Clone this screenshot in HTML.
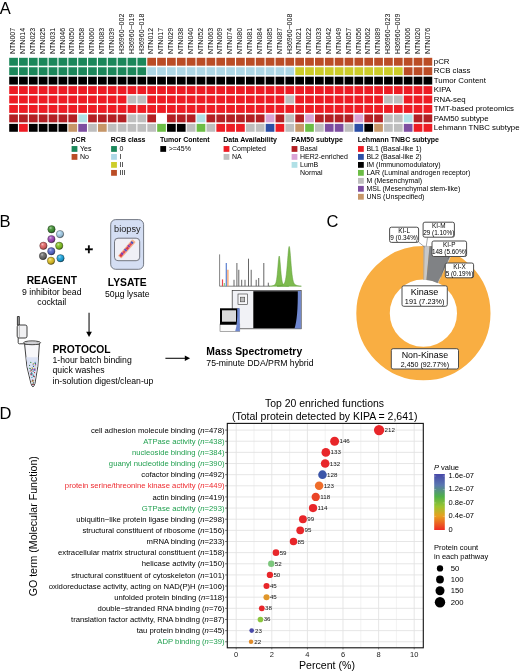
<!DOCTYPE html>
<html lang="en"><head><meta charset="utf-8"><title>Figure</title>
<style>
html,body{margin:0;padding:0;background:#fff;}
body{width:520px;height:672px;overflow:hidden;font-family:"Liberation Sans",Arial,sans-serif;}
svg{display:block}
svg text{font-family:"Liberation Sans",Arial,sans-serif;}
</style></head><body>
<svg width="520" height="672" viewBox="0 0 520 672">
<rect width="520" height="672" fill="#fff"/>
<g id="panelA">
<text x="-0.3" y="13.85" font-size="16.5" font-family="Liberation Sans, Arial, sans-serif">A</text>
<g font-size="7" font-family="Liberation Sans, Arial, sans-serif" fill="#000">
<text transform="translate(15.30,54) rotate(-90)">NTN007</text>
<text transform="translate(25.16,54) rotate(-90)">NTN014</text>
<text transform="translate(35.03,54) rotate(-90)">NTN023</text>
<text transform="translate(44.90,54) rotate(-90)">NTN025</text>
<text transform="translate(54.76,54) rotate(-90)">NTN031</text>
<text transform="translate(64.62,54) rotate(-90)">NTN046</text>
<text transform="translate(74.49,54) rotate(-90)">NTN050</text>
<text transform="translate(84.36,54) rotate(-90)">NTN058</text>
<text transform="translate(94.22,54) rotate(-90)">NTN060</text>
<text transform="translate(104.08,54) rotate(-90)">NTN083</text>
<text transform="translate(113.95,54) rotate(-90)">NTN039</text>
<text transform="translate(123.81,54) rotate(-90)">H36960−002</text>
<text transform="translate(133.68,54) rotate(-90)">H36960−019</text>
<text transform="translate(143.54,54) rotate(-90)">H36960−018</text>
<text transform="translate(153.41,54) rotate(-90)">NTN012</text>
<text transform="translate(163.27,54) rotate(-90)">NTN017</text>
<text transform="translate(173.14,54) rotate(-90)">NTN029</text>
<text transform="translate(183.00,54) rotate(-90)">NTN038</text>
<text transform="translate(192.87,54) rotate(-90)">NTN040</text>
<text transform="translate(202.73,54) rotate(-90)">NTN052</text>
<text transform="translate(212.60,54) rotate(-90)">NTN063</text>
<text transform="translate(222.46,54) rotate(-90)">NTN069</text>
<text transform="translate(232.33,54) rotate(-90)">NTN074</text>
<text transform="translate(242.19,54) rotate(-90)">NTN080</text>
<text transform="translate(252.06,54) rotate(-90)">NTN081</text>
<text transform="translate(261.93,54) rotate(-90)">NTN084</text>
<text transform="translate(271.79,54) rotate(-90)">NTN085</text>
<text transform="translate(281.66,54) rotate(-90)">NTN087</text>
<text transform="translate(291.52,54) rotate(-90)">H36960−008</text>
<text transform="translate(301.38,54) rotate(-90)">NTN021</text>
<text transform="translate(311.25,54) rotate(-90)">NTN022</text>
<text transform="translate(321.12,54) rotate(-90)">NTN033</text>
<text transform="translate(330.98,54) rotate(-90)">NTN042</text>
<text transform="translate(340.85,54) rotate(-90)">NTN049</text>
<text transform="translate(350.71,54) rotate(-90)">NTN057</text>
<text transform="translate(360.58,54) rotate(-90)">NTN056</text>
<text transform="translate(370.44,54) rotate(-90)">NTN062</text>
<text transform="translate(380.31,54) rotate(-90)">NTN089</text>
<text transform="translate(390.17,54) rotate(-90)">H36960−023</text>
<text transform="translate(400.04,54) rotate(-90)">H36960−009</text>
<text transform="translate(409.90,54) rotate(-90)">NTN006</text>
<text transform="translate(419.77,54) rotate(-90)">NTN020</text>
<text transform="translate(429.63,54) rotate(-90)">NTN076</text>
</g>
<rect x="9.20" y="57.80" width="8.7" height="7.9" fill="#1b875a"/>
<rect x="19.06" y="57.80" width="8.7" height="7.9" fill="#1b875a"/>
<rect x="28.93" y="57.80" width="8.7" height="7.9" fill="#1b875a"/>
<rect x="38.80" y="57.80" width="8.7" height="7.9" fill="#1b875a"/>
<rect x="48.66" y="57.80" width="8.7" height="7.9" fill="#1b875a"/>
<rect x="58.53" y="57.80" width="8.7" height="7.9" fill="#1b875a"/>
<rect x="68.39" y="57.80" width="8.7" height="7.9" fill="#1b875a"/>
<rect x="78.26" y="57.80" width="8.7" height="7.9" fill="#1b875a"/>
<rect x="88.12" y="57.80" width="8.7" height="7.9" fill="#1b875a"/>
<rect x="97.98" y="57.80" width="8.7" height="7.9" fill="#1b875a"/>
<rect x="107.85" y="57.80" width="8.7" height="7.9" fill="#1b875a"/>
<rect x="117.72" y="57.80" width="8.7" height="7.9" fill="#1b875a"/>
<rect x="127.58" y="57.80" width="8.7" height="7.9" fill="#1b875a"/>
<rect x="137.44" y="57.80" width="8.7" height="7.9" fill="#1b875a"/>
<rect x="147.31" y="57.80" width="8.7" height="7.9" fill="#bb4d26"/>
<rect x="157.17" y="57.80" width="8.7" height="7.9" fill="#bb4d26"/>
<rect x="167.04" y="57.80" width="8.7" height="7.9" fill="#bb4d26"/>
<rect x="176.91" y="57.80" width="8.7" height="7.9" fill="#bb4d26"/>
<rect x="186.77" y="57.80" width="8.7" height="7.9" fill="#bb4d26"/>
<rect x="196.63" y="57.80" width="8.7" height="7.9" fill="#bb4d26"/>
<rect x="206.50" y="57.80" width="8.7" height="7.9" fill="#bb4d26"/>
<rect x="216.36" y="57.80" width="8.7" height="7.9" fill="#bb4d26"/>
<rect x="226.23" y="57.80" width="8.7" height="7.9" fill="#bb4d26"/>
<rect x="236.09" y="57.80" width="8.7" height="7.9" fill="#bb4d26"/>
<rect x="245.96" y="57.80" width="8.7" height="7.9" fill="#bb4d26"/>
<rect x="255.82" y="57.80" width="8.7" height="7.9" fill="#bb4d26"/>
<rect x="265.69" y="57.80" width="8.7" height="7.9" fill="#bb4d26"/>
<rect x="275.56" y="57.80" width="8.7" height="7.9" fill="#bb4d26"/>
<rect x="285.42" y="57.80" width="8.7" height="7.9" fill="#bb4d26"/>
<rect x="295.28" y="57.80" width="8.7" height="7.9" fill="#bb4d26"/>
<rect x="305.15" y="57.80" width="8.7" height="7.9" fill="#bb4d26"/>
<rect x="315.01" y="57.80" width="8.7" height="7.9" fill="#bb4d26"/>
<rect x="324.88" y="57.80" width="8.7" height="7.9" fill="#bb4d26"/>
<rect x="334.75" y="57.80" width="8.7" height="7.9" fill="#bb4d26"/>
<rect x="344.61" y="57.80" width="8.7" height="7.9" fill="#bb4d26"/>
<rect x="354.48" y="57.80" width="8.7" height="7.9" fill="#bb4d26"/>
<rect x="364.34" y="57.80" width="8.7" height="7.9" fill="#bb4d26"/>
<rect x="374.20" y="57.80" width="8.7" height="7.9" fill="#bb4d26"/>
<rect x="384.07" y="57.80" width="8.7" height="7.9" fill="#bb4d26"/>
<rect x="393.94" y="57.80" width="8.7" height="7.9" fill="#bb4d26"/>
<rect x="403.80" y="57.80" width="8.7" height="7.9" fill="#bb4d26"/>
<rect x="413.67" y="57.80" width="8.7" height="7.9" fill="#bb4d26"/>
<rect x="423.53" y="57.80" width="8.7" height="7.9" fill="#bb4d26"/>
<rect x="9.20" y="67.24" width="8.7" height="7.9" fill="#1b875a"/>
<rect x="19.06" y="67.24" width="8.7" height="7.9" fill="#1b875a"/>
<rect x="28.93" y="67.24" width="8.7" height="7.9" fill="#1b875a"/>
<rect x="38.80" y="67.24" width="8.7" height="7.9" fill="#1b875a"/>
<rect x="48.66" y="67.24" width="8.7" height="7.9" fill="#1b875a"/>
<rect x="58.53" y="67.24" width="8.7" height="7.9" fill="#1b875a"/>
<rect x="68.39" y="67.24" width="8.7" height="7.9" fill="#1b875a"/>
<rect x="78.26" y="67.24" width="8.7" height="7.9" fill="#1b875a"/>
<rect x="88.12" y="67.24" width="8.7" height="7.9" fill="#1b875a"/>
<rect x="97.98" y="67.24" width="8.7" height="7.9" fill="#1b875a"/>
<rect x="107.85" y="67.24" width="8.7" height="7.9" fill="#1b875a"/>
<rect x="117.72" y="67.24" width="8.7" height="7.9" fill="#1b875a"/>
<rect x="127.58" y="67.24" width="8.7" height="7.9" fill="#1b875a"/>
<rect x="137.44" y="67.24" width="8.7" height="7.9" fill="#1b875a"/>
<rect x="147.31" y="67.24" width="8.7" height="7.9" fill="#add8e6"/>
<rect x="157.17" y="67.24" width="8.7" height="7.9" fill="#add8e6"/>
<rect x="167.04" y="67.24" width="8.7" height="7.9" fill="#add8e6"/>
<rect x="176.91" y="67.24" width="8.7" height="7.9" fill="#add8e6"/>
<rect x="186.77" y="67.24" width="8.7" height="7.9" fill="#add8e6"/>
<rect x="196.63" y="67.24" width="8.7" height="7.9" fill="#add8e6"/>
<rect x="206.50" y="67.24" width="8.7" height="7.9" fill="#add8e6"/>
<rect x="216.36" y="67.24" width="8.7" height="7.9" fill="#add8e6"/>
<rect x="226.23" y="67.24" width="8.7" height="7.9" fill="#add8e6"/>
<rect x="236.09" y="67.24" width="8.7" height="7.9" fill="#add8e6"/>
<rect x="245.96" y="67.24" width="8.7" height="7.9" fill="#add8e6"/>
<rect x="255.82" y="67.24" width="8.7" height="7.9" fill="#add8e6"/>
<rect x="265.69" y="67.24" width="8.7" height="7.9" fill="#add8e6"/>
<rect x="275.56" y="67.24" width="8.7" height="7.9" fill="#add8e6"/>
<rect x="285.42" y="67.24" width="8.7" height="7.9" fill="#add8e6"/>
<rect x="295.28" y="67.24" width="8.7" height="7.9" fill="#cdcd2a"/>
<rect x="305.15" y="67.24" width="8.7" height="7.9" fill="#cdcd2a"/>
<rect x="315.01" y="67.24" width="8.7" height="7.9" fill="#cdcd2a"/>
<rect x="324.88" y="67.24" width="8.7" height="7.9" fill="#cdcd2a"/>
<rect x="334.75" y="67.24" width="8.7" height="7.9" fill="#cdcd2a"/>
<rect x="344.61" y="67.24" width="8.7" height="7.9" fill="#cdcd2a"/>
<rect x="354.48" y="67.24" width="8.7" height="7.9" fill="#cdcd2a"/>
<rect x="364.34" y="67.24" width="8.7" height="7.9" fill="#cdcd2a"/>
<rect x="374.20" y="67.24" width="8.7" height="7.9" fill="#cdcd2a"/>
<rect x="384.07" y="67.24" width="8.7" height="7.9" fill="#cdcd2a"/>
<rect x="393.94" y="67.24" width="8.7" height="7.9" fill="#cdcd2a"/>
<rect x="403.80" y="67.24" width="8.7" height="7.9" fill="#bb4d26"/>
<rect x="413.67" y="67.24" width="8.7" height="7.9" fill="#bb4d26"/>
<rect x="423.53" y="67.24" width="8.7" height="7.9" fill="#bb4d26"/>
<rect x="9.20" y="76.68" width="8.7" height="7.9" fill="#000000"/>
<rect x="19.06" y="76.68" width="8.7" height="7.9" fill="#000000"/>
<rect x="28.93" y="76.68" width="8.7" height="7.9" fill="#000000"/>
<rect x="38.80" y="76.68" width="8.7" height="7.9" fill="#000000"/>
<rect x="48.66" y="76.68" width="8.7" height="7.9" fill="#000000"/>
<rect x="58.53" y="76.68" width="8.7" height="7.9" fill="#000000"/>
<rect x="68.39" y="76.68" width="8.7" height="7.9" fill="#000000"/>
<rect x="78.26" y="76.68" width="8.7" height="7.9" fill="#000000"/>
<rect x="88.12" y="76.68" width="8.7" height="7.9" fill="#000000"/>
<rect x="97.98" y="76.68" width="8.7" height="7.9" fill="#000000"/>
<rect x="107.85" y="76.68" width="8.7" height="7.9" fill="#000000"/>
<rect x="117.72" y="76.68" width="8.7" height="7.9" fill="#000000"/>
<rect x="127.58" y="76.68" width="8.7" height="7.9" fill="#000000"/>
<rect x="137.44" y="76.68" width="8.7" height="7.9" fill="#000000"/>
<rect x="147.31" y="76.68" width="8.7" height="7.9" fill="#000000"/>
<rect x="157.17" y="76.68" width="8.7" height="7.9" fill="#000000"/>
<rect x="167.04" y="76.68" width="8.7" height="7.9" fill="#000000"/>
<rect x="176.91" y="76.68" width="8.7" height="7.9" fill="#000000"/>
<rect x="186.77" y="76.68" width="8.7" height="7.9" fill="#000000"/>
<rect x="196.63" y="76.68" width="8.7" height="7.9" fill="#000000"/>
<rect x="206.50" y="76.68" width="8.7" height="7.9" fill="#000000"/>
<rect x="216.36" y="76.68" width="8.7" height="7.9" fill="#000000"/>
<rect x="226.23" y="76.68" width="8.7" height="7.9" fill="#000000"/>
<rect x="236.09" y="76.68" width="8.7" height="7.9" fill="#000000"/>
<rect x="245.96" y="76.68" width="8.7" height="7.9" fill="#000000"/>
<rect x="255.82" y="76.68" width="8.7" height="7.9" fill="#000000"/>
<rect x="265.69" y="76.68" width="8.7" height="7.9" fill="#000000"/>
<rect x="275.56" y="76.68" width="8.7" height="7.9" fill="#000000"/>
<rect x="285.42" y="76.68" width="8.7" height="7.9" fill="#000000"/>
<rect x="295.28" y="76.68" width="8.7" height="7.9" fill="#000000"/>
<rect x="305.15" y="76.68" width="8.7" height="7.9" fill="#000000"/>
<rect x="315.01" y="76.68" width="8.7" height="7.9" fill="#000000"/>
<rect x="324.88" y="76.68" width="8.7" height="7.9" fill="#000000"/>
<rect x="334.75" y="76.68" width="8.7" height="7.9" fill="#000000"/>
<rect x="344.61" y="76.68" width="8.7" height="7.9" fill="#000000"/>
<rect x="354.48" y="76.68" width="8.7" height="7.9" fill="#000000"/>
<rect x="364.34" y="76.68" width="8.7" height="7.9" fill="#000000"/>
<rect x="374.20" y="76.68" width="8.7" height="7.9" fill="#000000"/>
<rect x="384.07" y="76.68" width="8.7" height="7.9" fill="#000000"/>
<rect x="393.94" y="76.68" width="8.7" height="7.9" fill="#000000"/>
<rect x="403.80" y="76.68" width="8.7" height="7.9" fill="#000000"/>
<rect x="413.67" y="76.68" width="8.7" height="7.9" fill="#000000"/>
<rect x="423.53" y="76.68" width="8.7" height="7.9" fill="#000000"/>
<rect x="9.20" y="86.12" width="8.7" height="7.9" fill="#ed1c24"/>
<rect x="19.06" y="86.12" width="8.7" height="7.9" fill="#ed1c24"/>
<rect x="28.93" y="86.12" width="8.7" height="7.9" fill="#ed1c24"/>
<rect x="38.80" y="86.12" width="8.7" height="7.9" fill="#ed1c24"/>
<rect x="48.66" y="86.12" width="8.7" height="7.9" fill="#ed1c24"/>
<rect x="58.53" y="86.12" width="8.7" height="7.9" fill="#ed1c24"/>
<rect x="68.39" y="86.12" width="8.7" height="7.9" fill="#ed1c24"/>
<rect x="78.26" y="86.12" width="8.7" height="7.9" fill="#ed1c24"/>
<rect x="88.12" y="86.12" width="8.7" height="7.9" fill="#ed1c24"/>
<rect x="97.98" y="86.12" width="8.7" height="7.9" fill="#ed1c24"/>
<rect x="107.85" y="86.12" width="8.7" height="7.9" fill="#ed1c24"/>
<rect x="117.72" y="86.12" width="8.7" height="7.9" fill="#ed1c24"/>
<rect x="127.58" y="86.12" width="8.7" height="7.9" fill="#ed1c24"/>
<rect x="137.44" y="86.12" width="8.7" height="7.9" fill="#ed1c24"/>
<rect x="147.31" y="86.12" width="8.7" height="7.9" fill="#ed1c24"/>
<rect x="157.17" y="86.12" width="8.7" height="7.9" fill="#ed1c24"/>
<rect x="167.04" y="86.12" width="8.7" height="7.9" fill="#ed1c24"/>
<rect x="176.91" y="86.12" width="8.7" height="7.9" fill="#ed1c24"/>
<rect x="186.77" y="86.12" width="8.7" height="7.9" fill="#ed1c24"/>
<rect x="196.63" y="86.12" width="8.7" height="7.9" fill="#ed1c24"/>
<rect x="206.50" y="86.12" width="8.7" height="7.9" fill="#ed1c24"/>
<rect x="216.36" y="86.12" width="8.7" height="7.9" fill="#ed1c24"/>
<rect x="226.23" y="86.12" width="8.7" height="7.9" fill="#ed1c24"/>
<rect x="236.09" y="86.12" width="8.7" height="7.9" fill="#ed1c24"/>
<rect x="245.96" y="86.12" width="8.7" height="7.9" fill="#ed1c24"/>
<rect x="255.82" y="86.12" width="8.7" height="7.9" fill="#ed1c24"/>
<rect x="265.69" y="86.12" width="8.7" height="7.9" fill="#ed1c24"/>
<rect x="275.56" y="86.12" width="8.7" height="7.9" fill="#ed1c24"/>
<rect x="285.42" y="86.12" width="8.7" height="7.9" fill="#ed1c24"/>
<rect x="295.28" y="86.12" width="8.7" height="7.9" fill="#ed1c24"/>
<rect x="305.15" y="86.12" width="8.7" height="7.9" fill="#ed1c24"/>
<rect x="315.01" y="86.12" width="8.7" height="7.9" fill="#ed1c24"/>
<rect x="324.88" y="86.12" width="8.7" height="7.9" fill="#ed1c24"/>
<rect x="334.75" y="86.12" width="8.7" height="7.9" fill="#ed1c24"/>
<rect x="344.61" y="86.12" width="8.7" height="7.9" fill="#ed1c24"/>
<rect x="354.48" y="86.12" width="8.7" height="7.9" fill="#ed1c24"/>
<rect x="364.34" y="86.12" width="8.7" height="7.9" fill="#ed1c24"/>
<rect x="374.20" y="86.12" width="8.7" height="7.9" fill="#ed1c24"/>
<rect x="384.07" y="86.12" width="8.7" height="7.9" fill="#ed1c24"/>
<rect x="393.94" y="86.12" width="8.7" height="7.9" fill="#ed1c24"/>
<rect x="403.80" y="86.12" width="8.7" height="7.9" fill="#ed1c24"/>
<rect x="413.67" y="86.12" width="8.7" height="7.9" fill="#ed1c24"/>
<rect x="423.53" y="86.12" width="8.7" height="7.9" fill="#ed1c24"/>
<rect x="9.20" y="95.56" width="8.7" height="7.9" fill="#ed1c24"/>
<rect x="19.06" y="95.56" width="8.7" height="7.9" fill="#ed1c24"/>
<rect x="28.93" y="95.56" width="8.7" height="7.9" fill="#ed1c24"/>
<rect x="38.80" y="95.56" width="8.7" height="7.9" fill="#ed1c24"/>
<rect x="48.66" y="95.56" width="8.7" height="7.9" fill="#ed1c24"/>
<rect x="58.53" y="95.56" width="8.7" height="7.9" fill="#ed1c24"/>
<rect x="68.39" y="95.56" width="8.7" height="7.9" fill="#ed1c24"/>
<rect x="78.26" y="95.56" width="8.7" height="7.9" fill="#ed1c24"/>
<rect x="88.12" y="95.56" width="8.7" height="7.9" fill="#ed1c24"/>
<rect x="97.98" y="95.56" width="8.7" height="7.9" fill="#ed1c24"/>
<rect x="107.85" y="95.56" width="8.7" height="7.9" fill="#ed1c24"/>
<rect x="117.72" y="95.56" width="8.7" height="7.9" fill="#ed1c24"/>
<rect x="127.58" y="95.56" width="8.7" height="7.9" fill="#bebebe"/>
<rect x="137.44" y="95.56" width="8.7" height="7.9" fill="#bebebe"/>
<rect x="147.31" y="95.56" width="8.7" height="7.9" fill="#ed1c24"/>
<rect x="157.17" y="95.56" width="8.7" height="7.9" fill="#ed1c24"/>
<rect x="167.04" y="95.56" width="8.7" height="7.9" fill="#ed1c24"/>
<rect x="176.91" y="95.56" width="8.7" height="7.9" fill="#ed1c24"/>
<rect x="186.77" y="95.56" width="8.7" height="7.9" fill="#ed1c24"/>
<rect x="196.63" y="95.56" width="8.7" height="7.9" fill="#ed1c24"/>
<rect x="206.50" y="95.56" width="8.7" height="7.9" fill="#ed1c24"/>
<rect x="216.36" y="95.56" width="8.7" height="7.9" fill="#ed1c24"/>
<rect x="226.23" y="95.56" width="8.7" height="7.9" fill="#ed1c24"/>
<rect x="236.09" y="95.56" width="8.7" height="7.9" fill="#ed1c24"/>
<rect x="245.96" y="95.56" width="8.7" height="7.9" fill="#ed1c24"/>
<rect x="255.82" y="95.56" width="8.7" height="7.9" fill="#ed1c24"/>
<rect x="265.69" y="95.56" width="8.7" height="7.9" fill="#ed1c24"/>
<rect x="275.56" y="95.56" width="8.7" height="7.9" fill="#ed1c24"/>
<rect x="285.42" y="95.56" width="8.7" height="7.9" fill="#bebebe"/>
<rect x="295.28" y="95.56" width="8.7" height="7.9" fill="#ed1c24"/>
<rect x="305.15" y="95.56" width="8.7" height="7.9" fill="#ed1c24"/>
<rect x="315.01" y="95.56" width="8.7" height="7.9" fill="#ed1c24"/>
<rect x="324.88" y="95.56" width="8.7" height="7.9" fill="#ed1c24"/>
<rect x="334.75" y="95.56" width="8.7" height="7.9" fill="#ed1c24"/>
<rect x="344.61" y="95.56" width="8.7" height="7.9" fill="#ed1c24"/>
<rect x="354.48" y="95.56" width="8.7" height="7.9" fill="#ed1c24"/>
<rect x="364.34" y="95.56" width="8.7" height="7.9" fill="#ed1c24"/>
<rect x="374.20" y="95.56" width="8.7" height="7.9" fill="#ed1c24"/>
<rect x="384.07" y="95.56" width="8.7" height="7.9" fill="#bebebe"/>
<rect x="393.94" y="95.56" width="8.7" height="7.9" fill="#bebebe"/>
<rect x="403.80" y="95.56" width="8.7" height="7.9" fill="#ed1c24"/>
<rect x="413.67" y="95.56" width="8.7" height="7.9" fill="#ed1c24"/>
<rect x="423.53" y="95.56" width="8.7" height="7.9" fill="#ed1c24"/>
<rect x="9.20" y="105.00" width="8.7" height="7.9" fill="#ed1c24"/>
<rect x="19.06" y="105.00" width="8.7" height="7.9" fill="#ed1c24"/>
<rect x="28.93" y="105.00" width="8.7" height="7.9" fill="#ed1c24"/>
<rect x="38.80" y="105.00" width="8.7" height="7.9" fill="#ed1c24"/>
<rect x="48.66" y="105.00" width="8.7" height="7.9" fill="#ed1c24"/>
<rect x="58.53" y="105.00" width="8.7" height="7.9" fill="#ed1c24"/>
<rect x="68.39" y="105.00" width="8.7" height="7.9" fill="#ed1c24"/>
<rect x="78.26" y="105.00" width="8.7" height="7.9" fill="#ed1c24"/>
<rect x="88.12" y="105.00" width="8.7" height="7.9" fill="#ed1c24"/>
<rect x="97.98" y="105.00" width="8.7" height="7.9" fill="#ed1c24"/>
<rect x="107.85" y="105.00" width="8.7" height="7.9" fill="#ed1c24"/>
<rect x="117.72" y="105.00" width="8.7" height="7.9" fill="#ed1c24"/>
<rect x="127.58" y="105.00" width="8.7" height="7.9" fill="#ed1c24"/>
<rect x="137.44" y="105.00" width="8.7" height="7.9" fill="#ed1c24"/>
<rect x="147.31" y="105.00" width="8.7" height="7.9" fill="#ed1c24"/>
<rect x="157.17" y="105.00" width="8.7" height="7.9" fill="#ed1c24"/>
<rect x="167.04" y="105.00" width="8.7" height="7.9" fill="#ed1c24"/>
<rect x="176.91" y="105.00" width="8.7" height="7.9" fill="#ed1c24"/>
<rect x="186.77" y="105.00" width="8.7" height="7.9" fill="#ed1c24"/>
<rect x="196.63" y="105.00" width="8.7" height="7.9" fill="#ed1c24"/>
<rect x="206.50" y="105.00" width="8.7" height="7.9" fill="#ed1c24"/>
<rect x="216.36" y="105.00" width="8.7" height="7.9" fill="#ed1c24"/>
<rect x="226.23" y="105.00" width="8.7" height="7.9" fill="#ed1c24"/>
<rect x="236.09" y="105.00" width="8.7" height="7.9" fill="#ed1c24"/>
<rect x="245.96" y="105.00" width="8.7" height="7.9" fill="#ed1c24"/>
<rect x="255.82" y="105.00" width="8.7" height="7.9" fill="#ed1c24"/>
<rect x="265.69" y="105.00" width="8.7" height="7.9" fill="#ed1c24"/>
<rect x="275.56" y="105.00" width="8.7" height="7.9" fill="#ed1c24"/>
<rect x="285.42" y="105.00" width="8.7" height="7.9" fill="#ed1c24"/>
<rect x="295.28" y="105.00" width="8.7" height="7.9" fill="#ed1c24"/>
<rect x="305.15" y="105.00" width="8.7" height="7.9" fill="#ed1c24"/>
<rect x="315.01" y="105.00" width="8.7" height="7.9" fill="#ed1c24"/>
<rect x="324.88" y="105.00" width="8.7" height="7.9" fill="#ed1c24"/>
<rect x="334.75" y="105.00" width="8.7" height="7.9" fill="#ed1c24"/>
<rect x="344.61" y="105.00" width="8.7" height="7.9" fill="#ed1c24"/>
<rect x="354.48" y="105.00" width="8.7" height="7.9" fill="#ed1c24"/>
<rect x="364.34" y="105.00" width="8.7" height="7.9" fill="#ed1c24"/>
<rect x="374.20" y="105.00" width="8.7" height="7.9" fill="#ed1c24"/>
<rect x="384.07" y="105.00" width="8.7" height="7.9" fill="#ed1c24"/>
<rect x="393.94" y="105.00" width="8.7" height="7.9" fill="#ed1c24"/>
<rect x="403.80" y="105.00" width="8.7" height="7.9" fill="#ed1c24"/>
<rect x="413.67" y="105.00" width="8.7" height="7.9" fill="#ed1c24"/>
<rect x="423.53" y="105.00" width="8.7" height="7.9" fill="#ed1c24"/>
<rect x="9.20" y="114.44" width="8.7" height="7.9" fill="#b22024"/>
<rect x="19.06" y="114.44" width="8.7" height="7.9" fill="#b22024"/>
<rect x="28.93" y="114.44" width="8.7" height="7.9" fill="#b22024"/>
<rect x="38.80" y="114.44" width="8.7" height="7.9" fill="#b22024"/>
<rect x="48.66" y="114.44" width="8.7" height="7.9" fill="#b22024"/>
<rect x="58.53" y="114.44" width="8.7" height="7.9" fill="#b22024"/>
<rect x="68.39" y="114.44" width="8.7" height="7.9" fill="#b22024"/>
<rect x="78.26" y="114.44" width="8.7" height="7.9" fill="#b0e0e6"/>
<rect x="88.12" y="114.44" width="8.7" height="7.9" fill="#b22024"/>
<rect x="97.98" y="114.44" width="8.7" height="7.9" fill="#b22024"/>
<rect x="107.85" y="114.44" width="8.7" height="7.9" fill="#b22024"/>
<rect x="117.72" y="114.44" width="8.7" height="7.9" fill="#b22024"/>
<rect x="127.58" y="114.44" width="8.7" height="7.9" fill="#bebebe"/>
<rect x="137.44" y="114.44" width="8.7" height="7.9" fill="#bebebe"/>
<rect x="147.31" y="114.44" width="8.7" height="7.9" fill="#b22024"/>
<rect x="167.04" y="114.44" width="8.7" height="7.9" fill="#b22024"/>
<rect x="176.91" y="114.44" width="8.7" height="7.9" fill="#b22024"/>
<rect x="186.77" y="114.44" width="8.7" height="7.9" fill="#b22024"/>
<rect x="196.63" y="114.44" width="8.7" height="7.9" fill="#b0e0e6"/>
<rect x="206.50" y="114.44" width="8.7" height="7.9" fill="#b22024"/>
<rect x="216.36" y="114.44" width="8.7" height="7.9" fill="#b22024"/>
<rect x="226.23" y="114.44" width="8.7" height="7.9" fill="#b22024"/>
<rect x="236.09" y="114.44" width="8.7" height="7.9" fill="#b22024"/>
<rect x="245.96" y="114.44" width="8.7" height="7.9" fill="#b22024"/>
<rect x="255.82" y="114.44" width="8.7" height="7.9" fill="#b22024"/>
<rect x="265.69" y="114.44" width="8.7" height="7.9" fill="#d9a3d5"/>
<rect x="275.56" y="114.44" width="8.7" height="7.9" fill="#b22024"/>
<rect x="285.42" y="114.44" width="8.7" height="7.9" fill="#bebebe"/>
<rect x="295.28" y="114.44" width="8.7" height="7.9" fill="#b22024"/>
<rect x="305.15" y="114.44" width="8.7" height="7.9" fill="#d9a3d5"/>
<rect x="315.01" y="114.44" width="8.7" height="7.9" fill="#b22024"/>
<rect x="324.88" y="114.44" width="8.7" height="7.9" fill="#b22024"/>
<rect x="334.75" y="114.44" width="8.7" height="7.9" fill="#b22024"/>
<rect x="344.61" y="114.44" width="8.7" height="7.9" fill="#b22024"/>
<rect x="354.48" y="114.44" width="8.7" height="7.9" fill="#d9a3d5"/>
<rect x="364.34" y="114.44" width="8.7" height="7.9" fill="#b22024"/>
<rect x="374.20" y="114.44" width="8.7" height="7.9" fill="#b22024"/>
<rect x="384.07" y="114.44" width="8.7" height="7.9" fill="#bebebe"/>
<rect x="393.94" y="114.44" width="8.7" height="7.9" fill="#bebebe"/>
<rect x="403.80" y="114.44" width="8.7" height="7.9" fill="#b0e0e6"/>
<rect x="413.67" y="114.44" width="8.7" height="7.9" fill="#b22024"/>
<rect x="423.53" y="114.44" width="8.7" height="7.9" fill="#b22024"/>
<rect x="9.20" y="123.88" width="8.7" height="7.9" fill="#000000"/>
<rect x="19.06" y="123.88" width="8.7" height="7.9" fill="#ed1c24"/>
<rect x="28.93" y="123.88" width="8.7" height="7.9" fill="#000000"/>
<rect x="38.80" y="123.88" width="8.7" height="7.9" fill="#000000"/>
<rect x="48.66" y="123.88" width="8.7" height="7.9" fill="#000000"/>
<rect x="58.53" y="123.88" width="8.7" height="7.9" fill="#000000"/>
<rect x="68.39" y="123.88" width="8.7" height="7.9" fill="#c69668"/>
<rect x="78.26" y="123.88" width="8.7" height="7.9" fill="#7d4ea0"/>
<rect x="88.12" y="123.88" width="8.7" height="7.9" fill="#bebebe"/>
<rect x="97.98" y="123.88" width="8.7" height="7.9" fill="#c69668"/>
<rect x="107.85" y="123.88" width="8.7" height="7.9" fill="#bebebe"/>
<rect x="117.72" y="123.88" width="8.7" height="7.9" fill="#bebebe"/>
<rect x="127.58" y="123.88" width="8.7" height="7.9" fill="#bebebe"/>
<rect x="137.44" y="123.88" width="8.7" height="7.9" fill="#bebebe"/>
<rect x="147.31" y="123.88" width="8.7" height="7.9" fill="#bebebe"/>
<rect x="157.17" y="123.88" width="8.7" height="7.9" fill="#6cbd45"/>
<rect x="167.04" y="123.88" width="8.7" height="7.9" fill="#000000"/>
<rect x="176.91" y="123.88" width="8.7" height="7.9" fill="#000000"/>
<rect x="186.77" y="123.88" width="8.7" height="7.9" fill="#bebebe"/>
<rect x="196.63" y="123.88" width="8.7" height="7.9" fill="#6cbd45"/>
<rect x="206.50" y="123.88" width="8.7" height="7.9" fill="#bebebe"/>
<rect x="216.36" y="123.88" width="8.7" height="7.9" fill="#ed1c24"/>
<rect x="226.23" y="123.88" width="8.7" height="7.9" fill="#ed1c24"/>
<rect x="236.09" y="123.88" width="8.7" height="7.9" fill="#ed1c24"/>
<rect x="245.96" y="123.88" width="8.7" height="7.9" fill="#bebebe"/>
<rect x="255.82" y="123.88" width="8.7" height="7.9" fill="#bebebe"/>
<rect x="265.69" y="123.88" width="8.7" height="7.9" fill="#2b4ea5"/>
<rect x="275.56" y="123.88" width="8.7" height="7.9" fill="#ed1c24"/>
<rect x="285.42" y="123.88" width="8.7" height="7.9" fill="#bebebe"/>
<rect x="295.28" y="123.88" width="8.7" height="7.9" fill="#c69668"/>
<rect x="305.15" y="123.88" width="8.7" height="7.9" fill="#6cbd45"/>
<rect x="315.01" y="123.88" width="8.7" height="7.9" fill="#bebebe"/>
<rect x="324.88" y="123.88" width="8.7" height="7.9" fill="#7d4ea0"/>
<rect x="334.75" y="123.88" width="8.7" height="7.9" fill="#7d4ea0"/>
<rect x="344.61" y="123.88" width="8.7" height="7.9" fill="#bebebe"/>
<rect x="354.48" y="123.88" width="8.7" height="7.9" fill="#2b4ea5"/>
<rect x="364.34" y="123.88" width="8.7" height="7.9" fill="#000000"/>
<rect x="374.20" y="123.88" width="8.7" height="7.9" fill="#c69668"/>
<rect x="384.07" y="123.88" width="8.7" height="7.9" fill="#bebebe"/>
<rect x="393.94" y="123.88" width="8.7" height="7.9" fill="#bebebe"/>
<rect x="403.80" y="123.88" width="8.7" height="7.9" fill="#7d4ea0"/>
<rect x="413.67" y="123.88" width="8.7" height="7.9" fill="#ed1c24"/>
<rect x="423.53" y="123.88" width="8.7" height="7.9" fill="#ed1c24"/>
<g font-size="7.85" font-family="Liberation Sans, Arial, sans-serif" fill="#000">
<text x="433.8" y="64.00">pCR</text>
<text x="433.8" y="73.47">RCB class</text>
<text x="433.8" y="82.94">Tumor Content</text>
<text x="433.8" y="92.41">KIPA</text>
<text x="433.8" y="101.88">RNA-seq</text>
<text x="433.8" y="111.35">TMT-based proteomics</text>
<text x="433.8" y="120.82">PAM50 subtype</text>
<text x="433.8" y="130.29">Lehmann TNBC subtype</text>
</g>
<text x="71.3" y="142" font-size="7" font-weight="bold" font-family="Liberation Sans, Arial, sans-serif">pCR</text>
<rect x="71.6" y="146.05" width="5.8" height="5.8" fill="#1b875a"/>
<text x="80.0" y="150.90" font-size="7" font-family="Liberation Sans, Arial, sans-serif">Yes</text>
<rect x="71.6" y="154.02" width="5.8" height="5.8" fill="#bb4d26"/>
<text x="80.0" y="158.87" font-size="7" font-family="Liberation Sans, Arial, sans-serif">No</text>
<text x="110.8" y="142" font-size="7" font-weight="bold" font-family="Liberation Sans, Arial, sans-serif">RCB class</text>
<rect x="111.1" y="146.05" width="5.8" height="5.8" fill="#1b875a"/>
<text x="119.5" y="150.90" font-size="7" font-family="Liberation Sans, Arial, sans-serif">0</text>
<rect x="111.1" y="154.02" width="5.8" height="5.8" fill="#add8e6"/>
<text x="119.5" y="158.87" font-size="7" font-family="Liberation Sans, Arial, sans-serif">I</text>
<rect x="111.1" y="161.99" width="5.8" height="5.8" fill="#cdcd2a"/>
<text x="119.5" y="166.84" font-size="7" font-family="Liberation Sans, Arial, sans-serif">II</text>
<rect x="111.1" y="169.96" width="5.8" height="5.8" fill="#bb4d26"/>
<text x="119.5" y="174.81" font-size="7" font-family="Liberation Sans, Arial, sans-serif">III</text>
<text x="160" y="142" font-size="7" font-weight="bold" font-family="Liberation Sans, Arial, sans-serif">Tumor Content</text>
<rect x="160.3" y="146.05" width="5.8" height="5.8" fill="#000000"/>
<text x="168.7" y="150.90" font-size="7" font-family="Liberation Sans, Arial, sans-serif">&gt;=45%</text>
<text x="223.3" y="142" font-size="7" font-weight="bold" font-family="Liberation Sans, Arial, sans-serif">Data Availability</text>
<rect x="223.60000000000002" y="146.05" width="5.8" height="5.8" fill="#ed1c24"/>
<text x="232.0" y="150.90" font-size="7" font-family="Liberation Sans, Arial, sans-serif">Completed</text>
<rect x="223.60000000000002" y="154.02" width="5.8" height="5.8" fill="#bebebe"/>
<text x="232.0" y="158.87" font-size="7" font-family="Liberation Sans, Arial, sans-serif">NA</text>
<text x="291.3" y="142" font-size="7" font-weight="bold" font-family="Liberation Sans, Arial, sans-serif">PAM50 subtype</text>
<rect x="291.6" y="146.05" width="5.8" height="5.8" fill="#b22024"/>
<text x="300.0" y="150.90" font-size="7" font-family="Liberation Sans, Arial, sans-serif">Basal</text>
<rect x="291.6" y="154.02" width="5.8" height="5.8" fill="#d9a3d5"/>
<text x="300.0" y="158.87" font-size="7" font-family="Liberation Sans, Arial, sans-serif">HER2-enriched</text>
<rect x="291.6" y="161.99" width="5.8" height="5.8" fill="#b0e0e6"/>
<text x="300.0" y="166.84" font-size="7" font-family="Liberation Sans, Arial, sans-serif">LumB</text>
<text x="300.0" y="174.81" font-size="7" font-family="Liberation Sans, Arial, sans-serif">Normal</text>
<text x="357.7" y="142" font-size="7" font-weight="bold" font-family="Liberation Sans, Arial, sans-serif">Lehmann TNBC subtype</text>
<rect x="358.0" y="146.05" width="5.8" height="5.8" fill="#ed1c24"/>
<text x="366.4" y="150.90" font-size="7" font-family="Liberation Sans, Arial, sans-serif">BL1 (Basal-like 1)</text>
<rect x="358.0" y="154.02" width="5.8" height="5.8" fill="#2b4ea5"/>
<text x="366.4" y="158.87" font-size="7" font-family="Liberation Sans, Arial, sans-serif">BL2 (Basal-like 2)</text>
<rect x="358.0" y="161.99" width="5.8" height="5.8" fill="#000000"/>
<text x="366.4" y="166.84" font-size="7" font-family="Liberation Sans, Arial, sans-serif">IM (Immunomodulatory)</text>
<rect x="358.0" y="169.96" width="5.8" height="5.8" fill="#6cbd45"/>
<text x="366.4" y="174.81" font-size="7" font-family="Liberation Sans, Arial, sans-serif">LAR (Luminal androgen receptor)</text>
<rect x="358.0" y="177.93" width="5.8" height="5.8" fill="#bebebe"/>
<text x="366.4" y="182.78" font-size="7" font-family="Liberation Sans, Arial, sans-serif">M (Mesenchymal)</text>
<rect x="358.0" y="185.90" width="5.8" height="5.8" fill="#7d4ea0"/>
<text x="366.4" y="190.75" font-size="7" font-family="Liberation Sans, Arial, sans-serif">MSL (Mesenchymal stem-like)</text>
<rect x="358.0" y="193.87" width="5.8" height="5.8" fill="#c69668"/>
<text x="366.4" y="198.72" font-size="7" font-family="Liberation Sans, Arial, sans-serif">UNS (Unspecified)</text>
</g>
<g id="panelB">
<text x="-0.4" y="227" font-size="16.5" font-family="Liberation Sans, Arial, sans-serif">B</text>
<defs>
<radialGradient id="bd" cx="0.38" cy="0.32" r="0.7"><stop offset="0" stop-color="#fff" stop-opacity="0.6"/><stop offset="0.3" stop-color="#fff" stop-opacity="0.12"/><stop offset="0.75" stop-color="#000" stop-opacity="0.12"/><stop offset="1" stop-color="#000" stop-opacity="0.5"/></radialGradient>
</defs>
<circle cx="51.5" cy="229.3" r="3.7" fill="#3f8f30"/><circle cx="51.5" cy="229.3" r="3.7" fill="url(#bd)" stroke="#222" stroke-opacity="0.6" stroke-width="0.6"/>
<circle cx="60.0" cy="234.1" r="3.7" fill="#a4cde8"/><circle cx="60.0" cy="234.1" r="3.7" fill="url(#bd)" stroke="#222" stroke-opacity="0.6" stroke-width="0.6"/>
<circle cx="51.4" cy="239.1" r="3.7" fill="#9a44b4"/><circle cx="51.4" cy="239.1" r="3.7" fill="url(#bd)" stroke="#222" stroke-opacity="0.6" stroke-width="0.6"/>
<circle cx="59.2" cy="245.8" r="3.7" fill="#80c020"/><circle cx="59.2" cy="245.8" r="3.7" fill="url(#bd)" stroke="#222" stroke-opacity="0.6" stroke-width="0.6"/>
<circle cx="43.4" cy="245.8" r="3.7" fill="#e26464"/><circle cx="43.4" cy="245.8" r="3.7" fill="url(#bd)" stroke="#222" stroke-opacity="0.6" stroke-width="0.6"/>
<circle cx="51.3" cy="251.2" r="3.7" fill="#5566cc"/><circle cx="51.3" cy="251.2" r="3.7" fill="url(#bd)" stroke="#222" stroke-opacity="0.6" stroke-width="0.6"/>
<circle cx="43.0" cy="256.0" r="3.7" fill="#686868"/><circle cx="43.0" cy="256.0" r="3.7" fill="url(#bd)" stroke="#222" stroke-opacity="0.6" stroke-width="0.6"/>
<circle cx="60.5" cy="258.2" r="3.7" fill="#1aa3dc"/><circle cx="60.5" cy="258.2" r="3.7" fill="url(#bd)" stroke="#222" stroke-opacity="0.6" stroke-width="0.6"/>
<circle cx="51.0" cy="260.8" r="3.7" fill="#dfc022"/><circle cx="51.0" cy="260.8" r="3.7" fill="url(#bd)" stroke="#222" stroke-opacity="0.6" stroke-width="0.6"/>
<text x="89.0" y="254.3" font-size="15" font-weight="bold" stroke="#000" stroke-width="0.25" text-anchor="middle" font-family="Liberation Sans, Arial, sans-serif">+</text>
<rect x="110.7" y="219.6" width="32.9" height="49.7" rx="5" fill="#d4def3" stroke="#555a66" stroke-width="0.8"/>
<text x="127.4" y="231.5" font-size="9.2" text-anchor="middle" fill="#222" font-family="Liberation Sans, Arial, sans-serif">biopsy</text>
<rect x="114.5" y="238.2" width="25.2" height="22.5" rx="3.5" fill="#f0f0f6" stroke="#666a74" stroke-width="0.9"/>
<g transform="translate(126.8,248.9) rotate(-48.9)"><rect x="-11" y="-2.2" width="22" height="4.4" rx="0.8" fill="#f6b48c"/><rect x="-10" y="-1.3" width="2.6" height="2.4" fill="#d8344a"/><rect x="-7.6" y="-1.6" width="2" height="2.6" fill="#7a3fb8"/><rect x="-5.4" y="-1.2" width="2.6" height="2.2" fill="#e0465a"/><rect x="-2.6" y="-1.6" width="2" height="2.8" fill="#5a55c8"/><rect x="-0.4" y="-1.2" width="2.6" height="2.4" fill="#d8344a"/><rect x="2.4" y="-1.6" width="2" height="2.6" fill="#8a3fb0"/><rect x="4.6" y="-1.2" width="2.4" height="2.2" fill="#e0465a"/><rect x="7.2" y="-1.5" width="2" height="2.6" fill="#4a4fc0"/></g>
<text x="51.8" y="284" font-size="10.3" font-weight="bold" text-anchor="middle" font-family="Liberation Sans, Arial, sans-serif">REAGENT</text>
<text x="51.8" y="294.6" font-size="8.7" text-anchor="middle" font-family="Liberation Sans, Arial, sans-serif">9 inhibitor bead</text>
<text x="51.8" y="304.8" font-size="8.7" text-anchor="middle" font-family="Liberation Sans, Arial, sans-serif">cocktail</text>
<text x="127.3" y="286" font-size="10.3" font-weight="bold" text-anchor="middle" font-family="Liberation Sans, Arial, sans-serif">LYSATE</text>
<text x="127.3" y="297" font-size="8.7" text-anchor="middle" font-family="Liberation Sans, Arial, sans-serif">50µg lysate</text>
<line x1="89.05" y1="312.7" x2="89.05" y2="333" stroke="#111" stroke-width="1.1"/><path d="M86.2 331.7 L91.9 331.7 L89.05 337 Z" fill="#000"/>
<g stroke="#2a2a2a" stroke-width="0.9" fill="none">
<path d="M17.4 316.5 h1.9 v8.7 h-1.9 z" fill="#a5a5a5"/>
<rect x="17.2" y="325" width="9.8" height="13" rx="1.8" fill="#f1f1f3"/>
<path d="M19.4 326 v11" stroke="#777" stroke-width="0.5"/>
<path d="M18.2 338 v4.6 q0 1.2 1.2 1.2 h5.4" />
<path d="M24.6 344.2 L26.9 366.5 L30.9 383.3 Q33 390.3 35 383.3 L37.8 366.5 L39.4 344.2 Z" fill="#f7f7fa"/>
<path d="M26.2 357.3 L27.5 366.5 L31.4 383 Q33 388.3 34.5 383 L37.2 366.5 L38.2 357.3 Z" fill="#dbe2f5" stroke="none"/>
<ellipse cx="32.1" cy="342.8" rx="8.5" ry="1.9" fill="#fff"/>
<ellipse cx="32.1" cy="343" rx="6.7" ry="1.1" fill="#e4e4ea" stroke="#777" stroke-width="0.4"/>
</g>
<circle cx="30.4" cy="368.7" r="0.55" fill="#444"/>
<circle cx="31.1" cy="374.3" r="0.55" fill="#b22"/>
<circle cx="34.5" cy="372.6" r="0.55" fill="#b22"/>
<circle cx="32.7" cy="368.4" r="0.55" fill="#a92"/>
<circle cx="33.7" cy="380.3" r="0.55" fill="#a92"/>
<circle cx="35.0" cy="368.2" r="0.55" fill="#a92"/>
<circle cx="32.3" cy="380.7" r="0.55" fill="#a92"/>
<circle cx="34.5" cy="370.0" r="0.55" fill="#189"/>
<circle cx="33.1" cy="364.8" r="0.55" fill="#444"/>
<circle cx="31.5" cy="374.8" r="0.55" fill="#c55"/>
<circle cx="34.9" cy="369.8" r="0.55" fill="#555"/>
<circle cx="32.1" cy="381.5" r="0.55" fill="#a92"/>
<circle cx="34.1" cy="376.2" r="0.55" fill="#555"/>
<circle cx="32.1" cy="367.7" r="0.55" fill="#a92"/>
<circle cx="31.3" cy="373.2" r="0.55" fill="#a92"/>
<circle cx="34.2" cy="369.3" r="0.55" fill="#25a"/>
<circle cx="33.3" cy="363.5" r="0.55" fill="#a92"/>
<circle cx="33.3" cy="375.1" r="0.55" fill="#189"/>
<circle cx="33.5" cy="366.4" r="0.55" fill="#25a"/>
<circle cx="31.4" cy="372.8" r="0.55" fill="#c55"/>
<circle cx="31.8" cy="369.7" r="0.55" fill="#189"/>
<circle cx="31.9" cy="377.5" r="0.55" fill="#189"/>
<circle cx="29.6" cy="365.2" r="0.55" fill="#93a"/>
<circle cx="33.0" cy="369.7" r="0.55" fill="#93a"/>
<circle cx="35.2" cy="365.8" r="0.55" fill="#a92"/>
<circle cx="30.9" cy="373.8" r="0.55" fill="#25a"/>
<circle cx="33.7" cy="382.6" r="0.55" fill="#189"/>
<circle cx="30.8" cy="362.4" r="0.55" fill="#283"/>
<circle cx="32.8" cy="380.3" r="0.55" fill="#25a"/>
<circle cx="31.0" cy="370.1" r="0.55" fill="#c55"/>
<circle cx="31.3" cy="370.1" r="0.55" fill="#283"/>
<circle cx="30.2" cy="371.0" r="0.55" fill="#b22"/>
<circle cx="32.2" cy="373.7" r="0.55" fill="#189"/>
<circle cx="33.2" cy="384.4" r="0.55" fill="#c55"/>
<circle cx="33.0" cy="384.2" r="0.55" fill="#93a"/>
<circle cx="29.6" cy="365.5" r="0.55" fill="#283"/>
<circle cx="34.4" cy="376.7" r="0.55" fill="#b22"/>
<circle cx="33.1" cy="375.7" r="0.55" fill="#189"/>
<circle cx="32.7" cy="384.5" r="0.55" fill="#555"/>
<circle cx="35.1" cy="370.1" r="0.55" fill="#93a"/>
<circle cx="31.7" cy="374.2" r="0.55" fill="#444"/>
<circle cx="31.7" cy="374.5" r="0.55" fill="#c55"/>
<circle cx="34.7" cy="369.1" r="0.55" fill="#93a"/>
<circle cx="31.0" cy="374.7" r="0.55" fill="#a92"/>
<circle cx="32.7" cy="369.2" r="0.55" fill="#93a"/>
<circle cx="31.7" cy="372.9" r="0.55" fill="#189"/>
<circle cx="35.4" cy="363.6" r="0.55" fill="#25a"/>
<circle cx="33.0" cy="384.3" r="0.55" fill="#b22"/>
<circle cx="31.2" cy="374.6" r="0.55" fill="#93a"/>
<circle cx="33.2" cy="383.2" r="0.55" fill="#283"/>
<circle cx="33.4" cy="371.1" r="0.55" fill="#189"/>
<circle cx="33.0" cy="381.0" r="0.55" fill="#a92"/>
<circle cx="32.1" cy="371.2" r="0.55" fill="#c55"/>
<circle cx="35.6" cy="364.4" r="0.55" fill="#93a"/>
<circle cx="35.2" cy="363.4" r="0.55" fill="#283"/>
<circle cx="32.4" cy="380.1" r="0.55" fill="#b22"/>
<circle cx="33.3" cy="382.1" r="0.55" fill="#c55"/>
<circle cx="33.6" cy="376.2" r="0.55" fill="#444"/>
<circle cx="29.7" cy="368.3" r="0.55" fill="#283"/>
<circle cx="35.1" cy="362.2" r="0.55" fill="#25a"/>
<text x="52.5" y="352.6" font-size="10.3" font-weight="bold" font-family="Liberation Sans, Arial, sans-serif">PROTOCOL</text>
<text x="52.5" y="362.8" font-size="8.7" font-family="Liberation Sans, Arial, sans-serif">1-hour batch binding</text>
<text x="52.5" y="373.2" font-size="8.7" font-family="Liberation Sans, Arial, sans-serif">quick washes</text>
<text x="52.5" y="383.6" font-size="8.7" font-family="Liberation Sans, Arial, sans-serif">in-solution digest/clean-up</text>
<line x1="165.4" y1="358.3" x2="186" y2="358.3" stroke="#111" stroke-width="1.1"/><path d="M184.8 355.6 L184.8 361 L190.1 358.3 Z" fill="#000"/>
<g stroke-width="0.8">
<path d="M219.6 254.4 V286.2 H270" stroke="#777" fill="none" stroke-width="0.9"/>
<line x1="222.5" y1="279.4" x2="222.5" y2="286.2" stroke="#e8474c" stroke-width="1.2"/>
<line x1="224.4" y1="283" x2="224.4" y2="286.2" stroke="#8fd08a" stroke-width="1.2"/>
<line x1="226.3" y1="263" x2="226.3" y2="286.2" stroke="#5b7fd0" stroke-width="1.2"/>
<line x1="227.9" y1="269.8" x2="227.9" y2="286.2" stroke="#f59a5e" stroke-width="1.2"/>
<line x1="234" y1="279.8" x2="234" y2="286.2" stroke="#555" stroke-width="0.9"/>
<line x1="236.9" y1="263" x2="236.9" y2="286.2" stroke="#555" stroke-width="0.9"/>
<line x1="238.8" y1="269.8" x2="238.8" y2="286.2" stroke="#555" stroke-width="0.9"/>
<line x1="241.7" y1="279.8" x2="241.7" y2="286.2" stroke="#555" stroke-width="0.9"/>
<line x1="245" y1="279.8" x2="245" y2="286.2" stroke="#555" stroke-width="0.9"/>
<line x1="248.5" y1="258.7" x2="248.5" y2="286.2" stroke="#555" stroke-width="0.9"/>
<line x1="251.2" y1="269.8" x2="251.2" y2="286.2" stroke="#555" stroke-width="0.9"/>
<line x1="256.2" y1="279.8" x2="256.2" y2="286.2" stroke="#555" stroke-width="0.9"/>
<line x1="258.7" y1="278" x2="258.7" y2="286.2" stroke="#555" stroke-width="0.9"/>
<line x1="263.8" y1="263" x2="263.8" y2="286.2" stroke="#555" stroke-width="0.9"/>
<line x1="268.3" y1="282.7" x2="268.3" y2="286.2" stroke="#555" stroke-width="0.9"/>
</g>
<path d="M269.54 286.20 L269.86 286.17 L270.18 286.14 L270.51 286.10 L270.83 286.06 L271.15 286.02 L271.47 285.97 L271.79 285.92 L272.12 285.85 L272.44 285.78 L272.76 285.70 L273.08 285.61 L273.40 285.50 L273.73 285.37 L274.05 285.22 L274.37 285.03 L274.69 284.78 L275.01 284.46 L275.34 284.00 L275.66 283.36 L275.98 282.45 L276.30 281.16 L276.62 279.41 L276.95 277.10 L277.27 274.19 L277.59 270.73 L277.91 266.88 L278.23 262.95 L278.56 259.42 L278.88 256.92 L279.20 256.00 L279.52 256.92 L279.84 259.42 L280.17 262.95 L280.49 266.88 L280.81 270.73 L281.13 274.19 L281.45 277.10 L281.78 279.41 L282.10 281.16 L282.42 282.45 L282.74 283.36 L283.06 284.00 L283.39 284.46 L283.71 284.78 L284.03 285.03 L284.35 285.22 L284.67 285.37 L285.00 285.50 L285.32 285.61 L285.64 285.70 L285.96 285.78 L286.28 285.85 L286.61 285.92 L286.93 285.97 L287.25 286.02 L287.57 286.06 L287.89 286.10 L288.22 286.14 L288.54 286.17 L288.86 286.20 Z" fill="#7dbb4e" stroke="#5a9a35" stroke-width="0.5"/>
<path d="M277.02 286.20 L277.43 286.16 L277.83 286.12 L278.24 286.07 L278.64 286.02 L279.05 285.96 L279.46 285.90 L279.86 285.83 L280.27 285.74 L280.67 285.65 L281.08 285.54 L281.49 285.42 L281.89 285.28 L282.30 285.11 L282.70 284.91 L283.11 284.66 L283.52 284.33 L283.92 283.90 L284.33 283.30 L284.73 282.46 L285.14 281.25 L285.55 279.56 L285.95 277.25 L286.36 274.20 L286.76 270.37 L287.17 265.81 L287.58 260.74 L287.98 255.56 L288.39 250.91 L288.79 247.61 L289.20 246.40 L289.61 247.61 L290.01 250.91 L290.42 255.56 L290.82 260.74 L291.23 265.81 L291.64 270.37 L292.04 274.20 L292.45 277.25 L292.85 279.56 L293.26 281.25 L293.67 282.46 L294.07 283.30 L294.48 283.90 L294.88 284.33 L295.29 284.66 L295.70 284.91 L296.10 285.11 L296.51 285.28 L296.91 285.42 L297.32 285.54 L297.73 285.65 L298.13 285.74 L298.54 285.83 L298.94 285.90 L299.35 285.96 L299.76 286.02 L300.16 286.07 L300.57 286.12 L300.97 286.16 L301.38 286.20 Z" fill="#7dbb4e" stroke="#5a9a35" stroke-width="0.5"/>
<g>
<rect x="232.2" y="290.5" width="69" height="38.3" fill="#f1f2f6" stroke="#333" stroke-width="0.7"/>
<rect x="253.3" y="291.2" width="47" height="37" fill="#000"/>
<path d="M297.8 291 H300.9 V328.5 H294.5 Q298 318 297.8 291 Z" fill="#6f87cf"/>
<rect x="238" y="294" width="9.4" height="10.3" fill="#f7f7f9" stroke="#333" stroke-width="0.6"/>
<rect x="240.3" y="297.2" width="4.4" height="4.6" fill="#bbb" stroke="#444" stroke-width="0.6"/>
<rect x="220" y="324" width="19.8" height="7.3" fill="#fafafa" stroke="#555" stroke-width="0.5"/>
<rect x="220" y="308.3" width="19" height="16.4" fill="#000"/>
<rect x="222" y="310.3" width="14" height="11.4" fill="#d9d9d9"/>
<path d="M237.2 308.3 H239.8 V331.3 H235.2 Q237.6 324 237.2 308.3 Z" fill="#6f87cf"/>
</g>
<text x="206.3" y="355" font-size="10.4" font-weight="bold" font-family="Liberation Sans, Arial, sans-serif">Mass Spectrometry</text>
<text x="206.3" y="365.8" font-size="8.7" font-family="Liberation Sans, Arial, sans-serif">75-minute DDA/PRM hybrid</text>
</g>
<g id="panelC">
<text x="326.4" y="226.9" font-size="16.5" font-family="Liberation Sans, Arial, sans-serif">C</text>
<circle cx="423.4" cy="313.2" r="50.349999999999994" fill="none" stroke="#f9ae42" stroke-width="33.49999999999999"/>
<path d="M423.40 245.80 A67.39999999999999 67.39999999999999 0 0 1 425.19 245.82 L424.29 279.91 A33.300000000000004 33.300000000000004 0 0 0 423.40 279.90 Z" fill="#a7a9ac"/>
<path d="M424.84 245.82 A67.39999999999999 67.39999999999999 0 0 1 429.72 246.10 L426.52 280.05 A33.300000000000004 33.300000000000004 0 0 0 424.11 279.91 Z" fill="#c7c8ca"/>
<path d="M429.49 246.08 A67.39999999999999 67.39999999999999 0 0 1 452.46 252.39 L437.76 283.15 A33.300000000000004 33.300000000000004 0 0 0 426.41 280.04 Z" fill="#808285"/>
<path d="M452.25 252.29 A67.39999999999999 67.39999999999999 0 0 1 452.98 252.64 L438.01 283.28 A33.300000000000004 33.300000000000004 0 0 0 437.65 283.10 Z" fill="#d1d3d4"/>
<g stroke="#555" stroke-width="0.5" fill="none"><path d="M418.5 242 L424.6 247"/><path d="M427.6 237.2 L426.2 246.5"/><path d="M449 256 L448 259"/><path d="M445.3 264 L440.7 277.4"/></g>
<rect x="389.6" y="227.2" width="29.0" height="15.2" rx="1.8" fill="#fff" stroke="#444" stroke-width="0.95"/>
<text x="404.1" y="232.8" font-size="6.4" text-anchor="middle" font-family="Liberation Sans, Arial, sans-serif">KI-L</text>
<text x="404.1" y="240.2" font-size="6.4" text-anchor="middle" font-family="Liberation Sans, Arial, sans-serif">9 (0.34%)</text>
<rect x="423.1" y="222.2" width="31.3" height="15.0" rx="1.8" fill="#fff" stroke="#444" stroke-width="0.95"/>
<text x="438.8" y="228.0" font-size="6.4" text-anchor="middle" font-family="Liberation Sans, Arial, sans-serif">KI-M</text>
<text x="438.8" y="235.2" font-size="6.4" text-anchor="middle" font-family="Liberation Sans, Arial, sans-serif">29 (1.10%)</text>
<rect x="432" y="241" width="34.6" height="15.5" rx="1.8" fill="#fff" stroke="#444" stroke-width="0.95"/>
<text x="449.3" y="246.9" font-size="6.4" text-anchor="middle" font-family="Liberation Sans, Arial, sans-serif">KI-P</text>
<text x="449.3" y="254" font-size="6.4" text-anchor="middle" font-family="Liberation Sans, Arial, sans-serif">148 (5.60%)</text>
<rect x="445.3" y="263.0" width="28.3" height="14.8" rx="1.8" fill="#fff" stroke="#444" stroke-width="0.95"/>
<text x="459.5" y="269.3" font-size="6.4" text-anchor="middle" font-family="Liberation Sans, Arial, sans-serif">KI-X</text>
<text x="459.5" y="275.8" font-size="6.4" text-anchor="middle" font-family="Liberation Sans, Arial, sans-serif">5 (0.19%)</text>
<rect x="402" y="285.8" width="45.3" height="20.5" rx="1.8" fill="#fff" stroke="#444" stroke-width="0.95"/>
<text x="424.6" y="294.6" font-size="9" text-anchor="middle" font-family="Liberation Sans, Arial, sans-serif">Kinase</text>
<text x="424.6" y="304.2" font-size="7.25" text-anchor="middle" font-family="Liberation Sans, Arial, sans-serif">191 (7.23%)</text>
<rect x="391.3" y="348.7" width="67.2" height="20.3" rx="1.8" fill="#fff" stroke="#444" stroke-width="0.95"/>
<text x="424.9" y="358.2" font-size="8.9" text-anchor="middle" font-family="Liberation Sans, Arial, sans-serif">Non-Kinase</text>
<text x="424.9" y="366.6" font-size="7.05" text-anchor="middle" font-family="Liberation Sans, Arial, sans-serif">2,450 (92.77%)</text>
</g>
<g id="panelD">
<text x="-0.4" y="419" font-size="16.5" font-family="Liberation Sans, Arial, sans-serif">D</text>
<text x="324.5" y="407.2" font-size="10.45" text-anchor="middle" font-family="Liberation Sans, Arial, sans-serif">Top 20 enriched functions</text>
<text x="324.7" y="419.9" font-size="10.53" text-anchor="middle" font-family="Liberation Sans, Arial, sans-serif">(Total protein detected by KIPA = 2,641)</text>
<rect x="227.3" y="423.4" width="196.0" height="224.39999999999998" fill="#fff"/>
<g stroke="#e2e2e2" fill="none">
<line x1="236.20" y1="423.4" x2="236.20" y2="647.8" stroke-width="0.85"/>
<line x1="254.00" y1="423.4" x2="254.00" y2="647.8" stroke-width="0.45"/>
<line x1="271.80" y1="423.4" x2="271.80" y2="647.8" stroke-width="0.85"/>
<line x1="289.60" y1="423.4" x2="289.60" y2="647.8" stroke-width="0.45"/>
<line x1="307.40" y1="423.4" x2="307.40" y2="647.8" stroke-width="0.85"/>
<line x1="325.20" y1="423.4" x2="325.20" y2="647.8" stroke-width="0.45"/>
<line x1="343.00" y1="423.4" x2="343.00" y2="647.8" stroke-width="0.85"/>
<line x1="360.80" y1="423.4" x2="360.80" y2="647.8" stroke-width="0.45"/>
<line x1="378.60" y1="423.4" x2="378.60" y2="647.8" stroke-width="0.85"/>
<line x1="396.40" y1="423.4" x2="396.40" y2="647.8" stroke-width="0.45"/>
<line x1="414.20" y1="423.4" x2="414.20" y2="647.8" stroke-width="0.85"/>
<line x1="227.3" y1="430.10" x2="423.3" y2="430.10" stroke-width="0.85"/>
<line x1="227.3" y1="441.24" x2="423.3" y2="441.24" stroke-width="0.85"/>
<line x1="227.3" y1="452.38" x2="423.3" y2="452.38" stroke-width="0.85"/>
<line x1="227.3" y1="463.52" x2="423.3" y2="463.52" stroke-width="0.85"/>
<line x1="227.3" y1="474.66" x2="423.3" y2="474.66" stroke-width="0.85"/>
<line x1="227.3" y1="485.80" x2="423.3" y2="485.80" stroke-width="0.85"/>
<line x1="227.3" y1="496.94" x2="423.3" y2="496.94" stroke-width="0.85"/>
<line x1="227.3" y1="508.08" x2="423.3" y2="508.08" stroke-width="0.85"/>
<line x1="227.3" y1="519.22" x2="423.3" y2="519.22" stroke-width="0.85"/>
<line x1="227.3" y1="530.36" x2="423.3" y2="530.36" stroke-width="0.85"/>
<line x1="227.3" y1="541.50" x2="423.3" y2="541.50" stroke-width="0.85"/>
<line x1="227.3" y1="552.64" x2="423.3" y2="552.64" stroke-width="0.85"/>
<line x1="227.3" y1="563.78" x2="423.3" y2="563.78" stroke-width="0.85"/>
<line x1="227.3" y1="574.92" x2="423.3" y2="574.92" stroke-width="0.85"/>
<line x1="227.3" y1="586.06" x2="423.3" y2="586.06" stroke-width="0.85"/>
<line x1="227.3" y1="597.20" x2="423.3" y2="597.20" stroke-width="0.85"/>
<line x1="227.3" y1="608.34" x2="423.3" y2="608.34" stroke-width="0.85"/>
<line x1="227.3" y1="619.48" x2="423.3" y2="619.48" stroke-width="0.85"/>
<line x1="227.3" y1="630.62" x2="423.3" y2="630.62" stroke-width="0.85"/>
<line x1="227.3" y1="641.76" x2="423.3" y2="641.76" stroke-width="0.85"/>
</g>
<rect x="227.3" y="423.4" width="196.0" height="224.39999999999998" fill="none" stroke="#111" stroke-width="1.1"/>
<text x="224.5" y="432.70" font-size="7.7" text-anchor="end" fill="#000" font-family="Liberation Sans, Arial, sans-serif">cell adhesion molecule binding (<tspan font-style="italic">n</tspan>=478)</text>
<line x1="225.1" y1="430.10" x2="227.3" y2="430.10" stroke="#333" stroke-width="0.7"/>
<circle cx="379.09" cy="430.10" r="5.15" fill="#e8262a"/>
<text x="384.59" y="432.10" font-size="6.2" fill="#111" font-family="Liberation Sans, Arial, sans-serif">212</text>
<text x="224.5" y="443.84" font-size="7.7" text-anchor="end" fill="#22a050" font-family="Liberation Sans, Arial, sans-serif">ATPase activity (<tspan font-style="italic">n</tspan>=438)</text>
<line x1="225.1" y1="441.24" x2="227.3" y2="441.24" stroke="#333" stroke-width="0.7"/>
<circle cx="334.60" cy="441.24" r="4.49" fill="#e8262a"/>
<text x="339.45" y="443.24" font-size="6.2" fill="#111" font-family="Liberation Sans, Arial, sans-serif">146</text>
<text x="224.5" y="454.98" font-size="7.7" text-anchor="end" fill="#22a050" font-family="Liberation Sans, Arial, sans-serif">nucleoside binding (<tspan font-style="italic">n</tspan>=384)</text>
<line x1="225.1" y1="452.38" x2="227.3" y2="452.38" stroke="#333" stroke-width="0.7"/>
<circle cx="325.84" cy="452.38" r="4.35" fill="#e8262a"/>
<text x="330.54" y="454.38" font-size="6.2" fill="#111" font-family="Liberation Sans, Arial, sans-serif">133</text>
<text x="224.5" y="466.12" font-size="7.7" text-anchor="end" fill="#22a050" font-family="Liberation Sans, Arial, sans-serif">guanyl nucleotide binding (<tspan font-style="italic">n</tspan>=390)</text>
<line x1="225.1" y1="463.52" x2="227.3" y2="463.52" stroke="#333" stroke-width="0.7"/>
<circle cx="325.17" cy="463.52" r="4.34" fill="#e8262a"/>
<text x="329.85" y="465.52" font-size="6.2" fill="#111" font-family="Liberation Sans, Arial, sans-serif">132</text>
<text x="224.5" y="477.26" font-size="7.7" text-anchor="end" fill="#000" font-family="Liberation Sans, Arial, sans-serif">cofactor binding (<tspan font-style="italic">n</tspan>=492)</text>
<line x1="225.1" y1="474.66" x2="227.3" y2="474.66" stroke="#333" stroke-width="0.7"/>
<circle cx="322.47" cy="474.66" r="4.29" fill="#3b55a8"/>
<text x="327.11" y="476.66" font-size="6.2" fill="#111" font-family="Liberation Sans, Arial, sans-serif">128</text>
<text x="224.5" y="488.40" font-size="7.7" text-anchor="end" fill="#ee2a2f" font-family="Liberation Sans, Arial, sans-serif">protein serine/threonine kinase activity (<tspan font-style="italic">n</tspan>=449)</text>
<line x1="225.1" y1="485.80" x2="227.3" y2="485.80" stroke="#333" stroke-width="0.7"/>
<circle cx="319.10" cy="485.80" r="4.23" fill="#ef6d2a"/>
<text x="323.68" y="487.80" font-size="6.2" fill="#111" font-family="Liberation Sans, Arial, sans-serif">123</text>
<text x="224.5" y="499.54" font-size="7.7" text-anchor="end" fill="#000" font-family="Liberation Sans, Arial, sans-serif">actin binding (<tspan font-style="italic">n</tspan>=419)</text>
<line x1="225.1" y1="496.94" x2="227.3" y2="496.94" stroke="#333" stroke-width="0.7"/>
<circle cx="315.73" cy="496.94" r="4.17" fill="#ea4528"/>
<text x="320.25" y="498.94" font-size="6.2" fill="#111" font-family="Liberation Sans, Arial, sans-serif">118</text>
<text x="224.5" y="510.68" font-size="7.7" text-anchor="end" fill="#22a050" font-family="Liberation Sans, Arial, sans-serif">GTPase activity (<tspan font-style="italic">n</tspan>=293)</text>
<line x1="225.1" y1="508.08" x2="227.3" y2="508.08" stroke="#333" stroke-width="0.7"/>
<circle cx="313.03" cy="508.08" r="4.12" fill="#e8262a"/>
<text x="317.51" y="510.08" font-size="6.2" fill="#111" font-family="Liberation Sans, Arial, sans-serif">114</text>
<text x="224.5" y="521.82" font-size="7.7" text-anchor="end" fill="#000" font-family="Liberation Sans, Arial, sans-serif">ubiquitin−like protein ligase binding (<tspan font-style="italic">n</tspan>=298)</text>
<line x1="225.1" y1="519.22" x2="227.3" y2="519.22" stroke="#333" stroke-width="0.7"/>
<circle cx="302.92" cy="519.22" r="3.93" fill="#e8262a"/>
<text x="307.21" y="521.22" font-size="6.2" fill="#111" font-family="Liberation Sans, Arial, sans-serif">99</text>
<text x="224.5" y="532.96" font-size="7.7" text-anchor="end" fill="#000" font-family="Liberation Sans, Arial, sans-serif">structural constituent of ribosome (<tspan font-style="italic">n</tspan>=156)</text>
<line x1="225.1" y1="530.36" x2="227.3" y2="530.36" stroke="#333" stroke-width="0.7"/>
<circle cx="300.23" cy="530.36" r="3.88" fill="#e8262a"/>
<text x="304.46" y="532.36" font-size="6.2" fill="#111" font-family="Liberation Sans, Arial, sans-serif">95</text>
<text x="224.5" y="544.10" font-size="7.7" text-anchor="end" fill="#000" font-family="Liberation Sans, Arial, sans-serif">mRNA binding (<tspan font-style="italic">n</tspan>=233)</text>
<line x1="225.1" y1="541.50" x2="227.3" y2="541.50" stroke="#333" stroke-width="0.7"/>
<circle cx="293.49" cy="541.50" r="3.74" fill="#e8262a"/>
<text x="297.58" y="543.50" font-size="6.2" fill="#111" font-family="Liberation Sans, Arial, sans-serif">85</text>
<text x="224.5" y="555.24" font-size="7.7" text-anchor="end" fill="#000" font-family="Liberation Sans, Arial, sans-serif">extracellular matrix structural constituent (<tspan font-style="italic">n</tspan>=158)</text>
<line x1="225.1" y1="552.64" x2="227.3" y2="552.64" stroke="#333" stroke-width="0.7"/>
<circle cx="275.97" cy="552.64" r="3.32" fill="#e8262a"/>
<text x="279.64" y="554.64" font-size="6.2" fill="#111" font-family="Liberation Sans, Arial, sans-serif">59</text>
<text x="224.5" y="566.38" font-size="7.7" text-anchor="end" fill="#000" font-family="Liberation Sans, Arial, sans-serif">helicase activity (<tspan font-style="italic">n</tspan>=150)</text>
<line x1="225.1" y1="563.78" x2="227.3" y2="563.78" stroke="#333" stroke-width="0.7"/>
<circle cx="271.25" cy="563.78" r="3.19" fill="#7cc67c"/>
<text x="274.79" y="565.78" font-size="6.2" fill="#111" font-family="Liberation Sans, Arial, sans-serif">52</text>
<text x="224.5" y="577.52" font-size="7.7" text-anchor="end" fill="#000" font-family="Liberation Sans, Arial, sans-serif">structural constituent of cytoskeleton (<tspan font-style="italic">n</tspan>=101)</text>
<line x1="225.1" y1="574.92" x2="227.3" y2="574.92" stroke="#333" stroke-width="0.7"/>
<circle cx="269.90" cy="574.92" r="3.15" fill="#e8262a"/>
<text x="273.40" y="576.92" font-size="6.2" fill="#111" font-family="Liberation Sans, Arial, sans-serif">50</text>
<text x="224.5" y="588.66" font-size="7.7" text-anchor="end" fill="#000" font-family="Liberation Sans, Arial, sans-serif">oxidoreductase activity, acting on NAD(P)H (<tspan font-style="italic">n</tspan>=106)</text>
<line x1="225.1" y1="586.06" x2="227.3" y2="586.06" stroke="#333" stroke-width="0.7"/>
<circle cx="266.53" cy="586.06" r="3.05" fill="#e8262a"/>
<text x="269.93" y="588.06" font-size="6.2" fill="#111" font-family="Liberation Sans, Arial, sans-serif">45</text>
<text x="224.5" y="599.80" font-size="7.7" text-anchor="end" fill="#000" font-family="Liberation Sans, Arial, sans-serif">unfolded protein binding (<tspan font-style="italic">n</tspan>=118)</text>
<line x1="225.1" y1="597.20" x2="227.3" y2="597.20" stroke="#333" stroke-width="0.7"/>
<circle cx="266.53" cy="597.20" r="3.05" fill="#e0962a"/>
<text x="269.93" y="599.20" font-size="6.2" fill="#111" font-family="Liberation Sans, Arial, sans-serif">45</text>
<text x="224.5" y="610.94" font-size="7.7" text-anchor="end" fill="#000" font-family="Liberation Sans, Arial, sans-serif">double−stranded RNA binding (<tspan font-style="italic">n</tspan>=76)</text>
<line x1="225.1" y1="608.34" x2="227.3" y2="608.34" stroke="#333" stroke-width="0.7"/>
<circle cx="261.81" cy="608.34" r="2.89" fill="#e8262a"/>
<text x="265.05" y="610.34" font-size="6.2" fill="#111" font-family="Liberation Sans, Arial, sans-serif">38</text>
<text x="224.5" y="622.08" font-size="7.7" text-anchor="end" fill="#000" font-family="Liberation Sans, Arial, sans-serif">translation factor activity, RNA binding (<tspan font-style="italic">n</tspan>=87)</text>
<line x1="225.1" y1="619.48" x2="227.3" y2="619.48" stroke="#333" stroke-width="0.7"/>
<circle cx="260.46" cy="619.48" r="2.83" fill="#8cc63f"/>
<text x="263.65" y="621.48" font-size="6.2" fill="#111" font-family="Liberation Sans, Arial, sans-serif">36</text>
<text x="224.5" y="633.22" font-size="7.7" text-anchor="end" fill="#000" font-family="Liberation Sans, Arial, sans-serif">tau protein binding (<tspan font-style="italic">n</tspan>=45)</text>
<line x1="225.1" y1="630.62" x2="227.3" y2="630.62" stroke="#333" stroke-width="0.7"/>
<circle cx="251.70" cy="630.62" r="2.33" fill="#4a4aa8"/>
<text x="255.04" y="632.62" font-size="6.2" fill="#111" font-family="Liberation Sans, Arial, sans-serif">23</text>
<text x="224.5" y="644.36" font-size="7.7" text-anchor="end" fill="#22a050" font-family="Liberation Sans, Arial, sans-serif">ADP binding (<tspan font-style="italic">n</tspan>=39)</text>
<line x1="225.1" y1="641.76" x2="227.3" y2="641.76" stroke="#333" stroke-width="0.7"/>
<circle cx="251.03" cy="641.76" r="2.20" fill="#e08a28"/>
<text x="254.23" y="643.76" font-size="6.2" fill="#111" font-family="Liberation Sans, Arial, sans-serif">22</text>
<line x1="236.20" y1="647.8" x2="236.20" y2="649.4" stroke="#333" stroke-width="0.6"/>
<text x="236.20" y="656.6" font-size="7.5" text-anchor="middle" fill="#222" font-family="Liberation Sans, Arial, sans-serif">0</text>
<line x1="271.80" y1="647.8" x2="271.80" y2="649.4" stroke="#333" stroke-width="0.6"/>
<text x="271.80" y="656.6" font-size="7.5" text-anchor="middle" fill="#222" font-family="Liberation Sans, Arial, sans-serif">2</text>
<line x1="307.40" y1="647.8" x2="307.40" y2="649.4" stroke="#333" stroke-width="0.6"/>
<text x="307.40" y="656.6" font-size="7.5" text-anchor="middle" fill="#222" font-family="Liberation Sans, Arial, sans-serif">4</text>
<line x1="343.00" y1="647.8" x2="343.00" y2="649.4" stroke="#333" stroke-width="0.6"/>
<text x="343.00" y="656.6" font-size="7.5" text-anchor="middle" fill="#222" font-family="Liberation Sans, Arial, sans-serif">6</text>
<line x1="378.60" y1="647.8" x2="378.60" y2="649.4" stroke="#333" stroke-width="0.6"/>
<text x="378.60" y="656.6" font-size="7.5" text-anchor="middle" fill="#222" font-family="Liberation Sans, Arial, sans-serif">8</text>
<line x1="414.20" y1="647.8" x2="414.20" y2="649.4" stroke="#333" stroke-width="0.6"/>
<text x="414.20" y="656.6" font-size="7.5" text-anchor="middle" fill="#222" font-family="Liberation Sans, Arial, sans-serif">10</text>
<text x="327" y="669" font-size="10.6" text-anchor="middle" font-family="Liberation Sans, Arial, sans-serif">Percent (%)</text>
<text transform="translate(36.5,526.2) rotate(-90)" font-size="10.6" text-anchor="middle" font-family="Liberation Sans, Arial, sans-serif">GO term (Molecular Function)</text>
<defs><linearGradient id="pv" x1="0" y1="1" x2="0" y2="0">
<stop offset="0" stop-color="#ee2a24"/><stop offset="0.25" stop-color="#e8a020"/><stop offset="0.42" stop-color="#9cc530"/><stop offset="0.6" stop-color="#4fb04a"/><stop offset="0.8" stop-color="#5a78b0"/><stop offset="1" stop-color="#4646a8"/></linearGradient></defs>
<text x="434" y="469.6" font-size="7.5" font-family="Liberation Sans, Arial, sans-serif"><tspan font-style="italic">P</tspan> value</text>
<rect x="434.2" y="474" width="10.6" height="56" fill="url(#pv)"/>
<text x="448.6" y="477.9" font-size="7.5" font-family="Liberation Sans, Arial, sans-serif">1.6e-07</text>
<line x1="434.2" y1="476" x2="436.2" y2="476" stroke="#fff" stroke-opacity="0.6" stroke-width="0.4"/><line x1="442.8" y1="476" x2="444.8" y2="476" stroke="#fff" stroke-opacity="0.6" stroke-width="0.4"/>
<text x="448.6" y="491.4" font-size="7.5" font-family="Liberation Sans, Arial, sans-serif">1.2e-07</text>
<line x1="434.2" y1="489.5" x2="436.2" y2="489.5" stroke="#fff" stroke-opacity="0.6" stroke-width="0.4"/><line x1="442.8" y1="489.5" x2="444.8" y2="489.5" stroke="#fff" stroke-opacity="0.6" stroke-width="0.4"/>
<text x="448.6" y="504.8" font-size="7.5" font-family="Liberation Sans, Arial, sans-serif">0.8e-07</text>
<line x1="434.2" y1="502.9" x2="436.2" y2="502.9" stroke="#fff" stroke-opacity="0.6" stroke-width="0.4"/><line x1="442.8" y1="502.9" x2="444.8" y2="502.9" stroke="#fff" stroke-opacity="0.6" stroke-width="0.4"/>
<text x="448.6" y="518.3" font-size="7.5" font-family="Liberation Sans, Arial, sans-serif">0.4e-07</text>
<line x1="434.2" y1="516.4" x2="436.2" y2="516.4" stroke="#fff" stroke-opacity="0.6" stroke-width="0.4"/><line x1="442.8" y1="516.4" x2="444.8" y2="516.4" stroke="#fff" stroke-opacity="0.6" stroke-width="0.4"/>
<text x="448.6" y="531.7" font-size="7.5" font-family="Liberation Sans, Arial, sans-serif">0</text>
<text x="434" y="550" font-size="7.5" font-family="Liberation Sans, Arial, sans-serif">Protein count</text>
<text x="434" y="558.9" font-size="7.5" font-family="Liberation Sans, Arial, sans-serif">in each pathway</text>
<circle cx="440" cy="568.4" r="3.15" fill="#000"/>
<text x="450.7" y="570.7" font-size="7.7" font-family="Liberation Sans, Arial, sans-serif">50</text>
<circle cx="440" cy="579.5" r="3.9" fill="#000"/>
<text x="450.7" y="581.8" font-size="7.7" font-family="Liberation Sans, Arial, sans-serif">100</text>
<circle cx="440" cy="590.7" r="4.5" fill="#000"/>
<text x="450.7" y="593.0" font-size="7.7" font-family="Liberation Sans, Arial, sans-serif">150</text>
<circle cx="440" cy="602.2" r="5.2" fill="#000"/>
<text x="450.7" y="604.5" font-size="7.7" font-family="Liberation Sans, Arial, sans-serif">200</text>
</g>
</svg>
</body></html>
